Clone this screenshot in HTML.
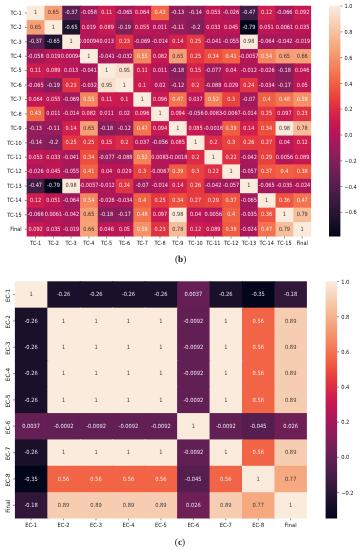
<!DOCTYPE html>
<html><head><meta charset="utf-8"><title>Correlation heatmaps</title>
<style>
html,body{margin:0;padding:0;background:#fff}
body{width:361px;height:550px;overflow:hidden}
svg{display:block}
svg text{font-family:"DejaVu Sans","Liberation Sans",sans-serif}
svg text.cap{font-family:"Liberation Serif","DejaVu Serif",serif;font-size:9.3px;fill:#222}
</style></head><body>
<svg width="361" height="550" viewBox="0 0 361 550" text-rendering="geometricPrecision">
<rect width="361" height="550" fill="#fff"/>
<g id="hm1">
<g>
<rect x="26.70" y="5.75" width="18.78" height="15.42" fill="#faebdd"/>
<rect x="44.48" y="5.75" width="18.78" height="15.42" fill="#f69e75"/>
<rect x="62.25" y="5.75" width="18.78" height="15.42" fill="#5b1e51"/>
<rect x="80.03" y="5.75" width="18.78" height="15.42" fill="#a4195b"/>
<rect x="97.80" y="5.75" width="18.78" height="15.42" fill="#cb1b4f"/>
<rect x="115.58" y="5.75" width="18.78" height="15.42" fill="#a3195b"/>
<rect x="133.35" y="5.75" width="18.78" height="15.42" fill="#c21753"/>
<rect x="151.12" y="5.75" width="18.78" height="15.42" fill="#f26747"/>
<rect x="168.90" y="5.75" width="18.78" height="15.42" fill="#931c5b"/>
<rect x="186.68" y="5.75" width="18.78" height="15.42" fill="#901d5b"/>
<rect x="204.45" y="5.75" width="18.78" height="15.42" fill="#bf1654"/>
<rect x="222.23" y="5.75" width="18.78" height="15.42" fill="#ad1759"/>
<rect x="240.00" y="5.75" width="18.78" height="15.42" fill="#431c46"/>
<rect x="257.78" y="5.75" width="18.78" height="15.42" fill="#ce1d4e"/>
<rect x="275.55" y="5.75" width="18.78" height="15.42" fill="#a3195b"/>
<rect x="293.33" y="5.75" width="17.78" height="15.42" fill="#c81951"/>
<rect x="26.70" y="20.17" width="18.78" height="15.42" fill="#f69e75"/>
<rect x="44.48" y="20.17" width="18.78" height="15.42" fill="#faebdd"/>
<rect x="62.25" y="20.17" width="18.78" height="15.42" fill="#1e122d"/>
<rect x="80.03" y="20.17" width="18.78" height="15.42" fill="#b71657"/>
<rect x="97.80" y="20.17" width="18.78" height="15.42" fill="#c71951"/>
<rect x="115.58" y="20.17" width="18.78" height="15.42" fill="#841e5a"/>
<rect x="133.35" y="20.17" width="18.78" height="15.42" fill="#bf1654"/>
<rect x="151.12" y="20.17" width="18.78" height="15.42" fill="#b51657"/>
<rect x="168.90" y="20.17" width="18.78" height="15.42" fill="#981b5b"/>
<rect x="186.68" y="20.17" width="18.78" height="15.42" fill="#821e5a"/>
<rect x="204.45" y="20.17" width="18.78" height="15.42" fill="#ba1656"/>
<rect x="222.23" y="20.17" width="18.78" height="15.42" fill="#bd1655"/>
<rect x="240.00" y="20.17" width="18.78" height="15.42" fill="#03051a"/>
<rect x="257.78" y="20.17" width="18.78" height="15.42" fill="#bf1654"/>
<rect x="275.55" y="20.17" width="18.78" height="15.42" fill="#b41658"/>
<rect x="293.33" y="20.17" width="17.78" height="15.42" fill="#ba1656"/>
<rect x="26.70" y="34.59" width="18.78" height="15.42" fill="#5b1e51"/>
<rect x="44.48" y="34.59" width="18.78" height="15.42" fill="#1e122d"/>
<rect x="62.25" y="34.59" width="18.78" height="15.42" fill="#faebdd"/>
<rect x="80.03" y="34.59" width="18.78" height="15.42" fill="#b41658"/>
<rect x="97.80" y="34.59" width="18.78" height="15.42" fill="#b51657"/>
<rect x="115.58" y="34.59" width="18.78" height="15.42" fill="#e03143"/>
<rect x="133.35" y="34.59" width="18.78" height="15.42" fill="#a3195b"/>
<rect x="151.12" y="34.59" width="18.78" height="15.42" fill="#af1759"/>
<rect x="168.90" y="34.59" width="18.78" height="15.42" fill="#d2204c"/>
<rect x="186.68" y="34.59" width="18.78" height="15.42" fill="#e33641"/>
<rect x="204.45" y="34.59" width="18.78" height="15.42" fill="#aa185a"/>
<rect x="222.23" y="34.59" width="18.78" height="15.42" fill="#a6195a"/>
<rect x="240.00" y="34.59" width="18.78" height="15.42" fill="#fae8d8"/>
<rect x="257.78" y="34.59" width="18.78" height="15.42" fill="#a3195b"/>
<rect x="275.55" y="34.59" width="18.78" height="15.42" fill="#a8185a"/>
<rect x="293.33" y="34.59" width="17.78" height="15.42" fill="#af1759"/>
<rect x="26.70" y="49.02" width="18.78" height="15.42" fill="#a4195b"/>
<rect x="44.48" y="49.02" width="18.78" height="15.42" fill="#b71657"/>
<rect x="62.25" y="49.02" width="18.78" height="15.42" fill="#b41658"/>
<rect x="80.03" y="49.02" width="18.78" height="15.42" fill="#faebdd"/>
<rect x="97.80" y="49.02" width="18.78" height="15.42" fill="#aa185a"/>
<rect x="115.58" y="49.02" width="18.78" height="15.42" fill="#ab185a"/>
<rect x="133.35" y="49.02" width="18.78" height="15.42" fill="#f4865e"/>
<rect x="151.12" y="49.02" width="18.78" height="15.42" fill="#c51852"/>
<rect x="168.90" y="49.02" width="18.78" height="15.42" fill="#f69e75"/>
<rect x="186.68" y="49.02" width="18.78" height="15.42" fill="#e33641"/>
<rect x="204.45" y="49.02" width="18.78" height="15.42" fill="#ed4e3e"/>
<rect x="222.23" y="49.02" width="18.78" height="15.42" fill="#f16244"/>
<rect x="240.00" y="49.02" width="18.78" height="15.42" fill="#b21758"/>
<rect x="257.78" y="49.02" width="18.78" height="15.42" fill="#f4845d"/>
<rect x="275.55" y="49.02" width="18.78" height="15.42" fill="#f69e75"/>
<rect x="293.33" y="49.02" width="17.78" height="15.42" fill="#f6a178"/>
<rect x="26.70" y="63.44" width="18.78" height="15.42" fill="#cb1b4f"/>
<rect x="44.48" y="63.44" width="18.78" height="15.42" fill="#c71951"/>
<rect x="62.25" y="63.44" width="18.78" height="15.42" fill="#b51657"/>
<rect x="80.03" y="63.44" width="18.78" height="15.42" fill="#aa185a"/>
<rect x="97.80" y="63.44" width="18.78" height="15.42" fill="#faebdd"/>
<rect x="115.58" y="63.44" width="18.78" height="15.42" fill="#f9e0cd"/>
<rect x="133.35" y="63.44" width="18.78" height="15.42" fill="#cb1b4f"/>
<rect x="151.12" y="63.44" width="18.78" height="15.42" fill="#b51657"/>
<rect x="168.90" y="63.44" width="18.78" height="15.42" fill="#871e5b"/>
<rect x="186.68" y="63.44" width="18.78" height="15.42" fill="#d3214b"/>
<rect x="204.45" y="63.44" width="18.78" height="15.42" fill="#9f1a5b"/>
<rect x="222.23" y="63.44" width="18.78" height="15.42" fill="#bc1656"/>
<rect x="240.00" y="63.44" width="18.78" height="15.42" fill="#b01759"/>
<rect x="257.78" y="63.44" width="18.78" height="15.42" fill="#ad1759"/>
<rect x="275.55" y="63.44" width="18.78" height="15.42" fill="#871e5b"/>
<rect x="293.33" y="63.44" width="17.78" height="15.42" fill="#bd1655"/>
<rect x="26.70" y="77.86" width="18.78" height="15.42" fill="#a3195b"/>
<rect x="44.48" y="77.86" width="18.78" height="15.42" fill="#841e5a"/>
<rect x="62.25" y="77.86" width="18.78" height="15.42" fill="#e03143"/>
<rect x="80.03" y="77.86" width="18.78" height="15.42" fill="#ab185a"/>
<rect x="97.80" y="77.86" width="18.78" height="15.42" fill="#f9e0cd"/>
<rect x="115.58" y="77.86" width="18.78" height="15.42" fill="#faebdd"/>
<rect x="133.35" y="77.86" width="18.78" height="15.42" fill="#ca1a50"/>
<rect x="151.12" y="77.86" width="18.78" height="15.42" fill="#b71657"/>
<rect x="168.90" y="77.86" width="18.78" height="15.42" fill="#951c5b"/>
<rect x="186.68" y="77.86" width="18.78" height="15.42" fill="#dc2b46"/>
<rect x="204.45" y="77.86" width="18.78" height="15.42" fill="#9e1a5b"/>
<rect x="222.23" y="77.86" width="18.78" height="15.42" fill="#ba1656"/>
<rect x="240.00" y="77.86" width="18.78" height="15.42" fill="#e23442"/>
<rect x="257.78" y="77.86" width="18.78" height="15.42" fill="#ab185a"/>
<rect x="275.55" y="77.86" width="18.78" height="15.42" fill="#891e5b"/>
<rect x="293.33" y="77.86" width="17.78" height="15.42" fill="#bf1654"/>
<rect x="26.70" y="92.28" width="18.78" height="15.42" fill="#c21753"/>
<rect x="44.48" y="92.28" width="18.78" height="15.42" fill="#bf1654"/>
<rect x="62.25" y="92.28" width="18.78" height="15.42" fill="#a3195b"/>
<rect x="80.03" y="92.28" width="18.78" height="15.42" fill="#f4865e"/>
<rect x="97.80" y="92.28" width="18.78" height="15.42" fill="#cb1b4f"/>
<rect x="115.58" y="92.28" width="18.78" height="15.42" fill="#ca1a50"/>
<rect x="133.35" y="92.28" width="18.78" height="15.42" fill="#faebdd"/>
<rect x="151.12" y="92.28" width="18.78" height="15.42" fill="#c81951"/>
<rect x="168.90" y="92.28" width="18.78" height="15.42" fill="#f3734e"/>
<rect x="186.68" y="92.28" width="18.78" height="15.42" fill="#bc1656"/>
<rect x="204.45" y="92.28" width="18.78" height="15.42" fill="#f47f58"/>
<rect x="222.23" y="92.28" width="18.78" height="15.42" fill="#e9423e"/>
<rect x="240.00" y="92.28" width="18.78" height="15.42" fill="#a11a5b"/>
<rect x="257.78" y="92.28" width="18.78" height="15.42" fill="#f06043"/>
<rect x="275.55" y="92.28" width="18.78" height="15.42" fill="#f37450"/>
<rect x="293.33" y="92.28" width="17.78" height="15.42" fill="#f59067"/>
<rect x="26.70" y="106.70" width="18.78" height="15.42" fill="#f26747"/>
<rect x="44.48" y="106.70" width="18.78" height="15.42" fill="#b51657"/>
<rect x="62.25" y="106.70" width="18.78" height="15.42" fill="#af1759"/>
<rect x="80.03" y="106.70" width="18.78" height="15.42" fill="#c51852"/>
<rect x="97.80" y="106.70" width="18.78" height="15.42" fill="#b51657"/>
<rect x="115.58" y="106.70" width="18.78" height="15.42" fill="#b71657"/>
<rect x="133.35" y="106.70" width="18.78" height="15.42" fill="#c81951"/>
<rect x="151.12" y="106.70" width="18.78" height="15.42" fill="#faebdd"/>
<rect x="168.90" y="106.70" width="18.78" height="15.42" fill="#c81951"/>
<rect x="186.68" y="106.70" width="18.78" height="15.42" fill="#a4195b"/>
<rect x="204.45" y="106.70" width="18.78" height="15.42" fill="#b51657"/>
<rect x="222.23" y="106.70" width="18.78" height="15.42" fill="#b21758"/>
<rect x="240.00" y="106.70" width="18.78" height="15.42" fill="#af1759"/>
<rect x="257.78" y="106.70" width="18.78" height="15.42" fill="#e33641"/>
<rect x="275.55" y="106.70" width="18.78" height="15.42" fill="#c81951"/>
<rect x="293.33" y="106.70" width="17.78" height="15.42" fill="#e03143"/>
<rect x="26.70" y="121.12" width="18.78" height="15.42" fill="#931c5b"/>
<rect x="44.48" y="121.12" width="18.78" height="15.42" fill="#981b5b"/>
<rect x="62.25" y="121.12" width="18.78" height="15.42" fill="#d2204c"/>
<rect x="80.03" y="121.12" width="18.78" height="15.42" fill="#f69e75"/>
<rect x="97.80" y="121.12" width="18.78" height="15.42" fill="#871e5b"/>
<rect x="115.58" y="121.12" width="18.78" height="15.42" fill="#951c5b"/>
<rect x="133.35" y="121.12" width="18.78" height="15.42" fill="#f3734e"/>
<rect x="151.12" y="121.12" width="18.78" height="15.42" fill="#c81951"/>
<rect x="168.90" y="121.12" width="18.78" height="15.42" fill="#faebdd"/>
<rect x="186.68" y="121.12" width="18.78" height="15.42" fill="#c71951"/>
<rect x="204.45" y="121.12" width="18.78" height="15.42" fill="#b21758"/>
<rect x="222.23" y="121.12" width="18.78" height="15.42" fill="#f05c42"/>
<rect x="240.00" y="121.12" width="18.78" height="15.42" fill="#d2204c"/>
<rect x="257.78" y="121.12" width="18.78" height="15.42" fill="#ed4e3e"/>
<rect x="275.55" y="121.12" width="18.78" height="15.42" fill="#fae8d8"/>
<rect x="293.33" y="121.12" width="17.78" height="15.42" fill="#f6bc99"/>
<rect x="26.70" y="135.55" width="18.78" height="15.42" fill="#901d5b"/>
<rect x="44.48" y="135.55" width="18.78" height="15.42" fill="#821e5a"/>
<rect x="62.25" y="135.55" width="18.78" height="15.42" fill="#e33641"/>
<rect x="80.03" y="135.55" width="18.78" height="15.42" fill="#e33641"/>
<rect x="97.80" y="135.55" width="18.78" height="15.42" fill="#d3214b"/>
<rect x="115.58" y="135.55" width="18.78" height="15.42" fill="#dc2b46"/>
<rect x="133.35" y="135.55" width="18.78" height="15.42" fill="#bc1656"/>
<rect x="151.12" y="135.55" width="18.78" height="15.42" fill="#a4195b"/>
<rect x="168.90" y="135.55" width="18.78" height="15.42" fill="#c71951"/>
<rect x="186.68" y="135.55" width="18.78" height="15.42" fill="#faebdd"/>
<rect x="204.45" y="135.55" width="18.78" height="15.42" fill="#dc2b46"/>
<rect x="222.23" y="135.55" width="18.78" height="15.42" fill="#e9423e"/>
<rect x="240.00" y="135.55" width="18.78" height="15.42" fill="#e53940"/>
<rect x="257.78" y="135.55" width="18.78" height="15.42" fill="#e63b40"/>
<rect x="275.55" y="135.55" width="18.78" height="15.42" fill="#bc1656"/>
<rect x="293.33" y="135.55" width="17.78" height="15.42" fill="#ce1d4e"/>
<rect x="26.70" y="149.97" width="18.78" height="15.42" fill="#bf1654"/>
<rect x="44.48" y="149.97" width="18.78" height="15.42" fill="#ba1656"/>
<rect x="62.25" y="149.97" width="18.78" height="15.42" fill="#aa185a"/>
<rect x="80.03" y="149.97" width="18.78" height="15.42" fill="#ed4e3e"/>
<rect x="97.80" y="149.97" width="18.78" height="15.42" fill="#9f1a5b"/>
<rect x="115.58" y="149.97" width="18.78" height="15.42" fill="#9e1a5b"/>
<rect x="133.35" y="149.97" width="18.78" height="15.42" fill="#f47f58"/>
<rect x="151.12" y="149.97" width="18.78" height="15.42" fill="#b51657"/>
<rect x="168.90" y="149.97" width="18.78" height="15.42" fill="#b21758"/>
<rect x="186.68" y="149.97" width="18.78" height="15.42" fill="#dc2b46"/>
<rect x="204.45" y="149.97" width="18.78" height="15.42" fill="#faebdd"/>
<rect x="222.23" y="149.97" width="18.78" height="15.42" fill="#df2f44"/>
<rect x="240.00" y="149.97" width="18.78" height="15.42" fill="#a8185a"/>
<rect x="257.78" y="149.97" width="18.78" height="15.42" fill="#e8403e"/>
<rect x="275.55" y="149.97" width="18.78" height="15.42" fill="#b41658"/>
<rect x="293.33" y="149.97" width="17.78" height="15.42" fill="#c71951"/>
<rect x="26.70" y="164.39" width="18.78" height="15.42" fill="#ad1759"/>
<rect x="44.48" y="164.39" width="18.78" height="15.42" fill="#bd1655"/>
<rect x="62.25" y="164.39" width="18.78" height="15.42" fill="#a6195a"/>
<rect x="80.03" y="164.39" width="18.78" height="15.42" fill="#f16244"/>
<rect x="97.80" y="164.39" width="18.78" height="15.42" fill="#bc1656"/>
<rect x="115.58" y="164.39" width="18.78" height="15.42" fill="#ba1656"/>
<rect x="133.35" y="164.39" width="18.78" height="15.42" fill="#e9423e"/>
<rect x="151.12" y="164.39" width="18.78" height="15.42" fill="#b21758"/>
<rect x="168.90" y="164.39" width="18.78" height="15.42" fill="#f05c42"/>
<rect x="186.68" y="164.39" width="18.78" height="15.42" fill="#e9423e"/>
<rect x="204.45" y="164.39" width="18.78" height="15.42" fill="#df2f44"/>
<rect x="222.23" y="164.39" width="18.78" height="15.42" fill="#faebdd"/>
<rect x="240.00" y="164.39" width="18.78" height="15.42" fill="#a4195b"/>
<rect x="257.78" y="164.39" width="18.78" height="15.42" fill="#ef5640"/>
<rect x="275.55" y="164.39" width="18.78" height="15.42" fill="#f06043"/>
<rect x="293.33" y="164.39" width="17.78" height="15.42" fill="#ef5a41"/>
<rect x="26.70" y="178.81" width="18.78" height="15.42" fill="#431c46"/>
<rect x="44.48" y="178.81" width="18.78" height="15.42" fill="#03051a"/>
<rect x="62.25" y="178.81" width="18.78" height="15.42" fill="#fae8d8"/>
<rect x="80.03" y="178.81" width="18.78" height="15.42" fill="#b21758"/>
<rect x="97.80" y="178.81" width="18.78" height="15.42" fill="#b01759"/>
<rect x="115.58" y="178.81" width="18.78" height="15.42" fill="#e23442"/>
<rect x="133.35" y="178.81" width="18.78" height="15.42" fill="#a11a5b"/>
<rect x="151.12" y="178.81" width="18.78" height="15.42" fill="#af1759"/>
<rect x="168.90" y="178.81" width="18.78" height="15.42" fill="#d2204c"/>
<rect x="186.68" y="178.81" width="18.78" height="15.42" fill="#e53940"/>
<rect x="204.45" y="178.81" width="18.78" height="15.42" fill="#a8185a"/>
<rect x="222.23" y="178.81" width="18.78" height="15.42" fill="#a4195b"/>
<rect x="240.00" y="178.81" width="18.78" height="15.42" fill="#faebdd"/>
<rect x="257.78" y="178.81" width="18.78" height="15.42" fill="#a3195b"/>
<rect x="275.55" y="178.81" width="18.78" height="15.42" fill="#aa185a"/>
<rect x="293.33" y="178.81" width="17.78" height="15.42" fill="#ad1759"/>
<rect x="26.70" y="193.23" width="18.78" height="15.42" fill="#ce1d4e"/>
<rect x="44.48" y="193.23" width="18.78" height="15.42" fill="#bf1654"/>
<rect x="62.25" y="193.23" width="18.78" height="15.42" fill="#a3195b"/>
<rect x="80.03" y="193.23" width="18.78" height="15.42" fill="#f4845d"/>
<rect x="97.80" y="193.23" width="18.78" height="15.42" fill="#ad1759"/>
<rect x="115.58" y="193.23" width="18.78" height="15.42" fill="#ab185a"/>
<rect x="133.35" y="193.23" width="18.78" height="15.42" fill="#f06043"/>
<rect x="151.12" y="193.23" width="18.78" height="15.42" fill="#e33641"/>
<rect x="168.90" y="193.23" width="18.78" height="15.42" fill="#ed4e3e"/>
<rect x="186.68" y="193.23" width="18.78" height="15.42" fill="#e63b40"/>
<rect x="204.45" y="193.23" width="18.78" height="15.42" fill="#e8403e"/>
<rect x="222.23" y="193.23" width="18.78" height="15.42" fill="#ef5640"/>
<rect x="240.00" y="193.23" width="18.78" height="15.42" fill="#a3195b"/>
<rect x="257.78" y="193.23" width="18.78" height="15.42" fill="#faebdd"/>
<rect x="275.55" y="193.23" width="18.78" height="15.42" fill="#ee543f"/>
<rect x="293.33" y="193.23" width="17.78" height="15.42" fill="#f3734e"/>
<rect x="26.70" y="207.66" width="18.78" height="15.42" fill="#a3195b"/>
<rect x="44.48" y="207.66" width="18.78" height="15.42" fill="#b41658"/>
<rect x="62.25" y="207.66" width="18.78" height="15.42" fill="#a8185a"/>
<rect x="80.03" y="207.66" width="18.78" height="15.42" fill="#f69e75"/>
<rect x="97.80" y="207.66" width="18.78" height="15.42" fill="#871e5b"/>
<rect x="115.58" y="207.66" width="18.78" height="15.42" fill="#891e5b"/>
<rect x="133.35" y="207.66" width="18.78" height="15.42" fill="#f37450"/>
<rect x="151.12" y="207.66" width="18.78" height="15.42" fill="#c81951"/>
<rect x="168.90" y="207.66" width="18.78" height="15.42" fill="#fae8d8"/>
<rect x="186.68" y="207.66" width="18.78" height="15.42" fill="#bc1656"/>
<rect x="204.45" y="207.66" width="18.78" height="15.42" fill="#b41658"/>
<rect x="222.23" y="207.66" width="18.78" height="15.42" fill="#f06043"/>
<rect x="240.00" y="207.66" width="18.78" height="15.42" fill="#aa185a"/>
<rect x="257.78" y="207.66" width="18.78" height="15.42" fill="#ee543f"/>
<rect x="275.55" y="207.66" width="18.78" height="15.42" fill="#faebdd"/>
<rect x="293.33" y="207.66" width="17.78" height="15.42" fill="#f6be9b"/>
<rect x="26.70" y="222.08" width="18.78" height="14.42" fill="#c81951"/>
<rect x="44.48" y="222.08" width="18.78" height="14.42" fill="#ba1656"/>
<rect x="62.25" y="222.08" width="18.78" height="14.42" fill="#af1759"/>
<rect x="80.03" y="222.08" width="18.78" height="14.42" fill="#f6a178"/>
<rect x="97.80" y="222.08" width="18.78" height="14.42" fill="#bd1655"/>
<rect x="115.58" y="222.08" width="18.78" height="14.42" fill="#bf1654"/>
<rect x="133.35" y="222.08" width="18.78" height="14.42" fill="#f59067"/>
<rect x="151.12" y="222.08" width="18.78" height="14.42" fill="#e03143"/>
<rect x="168.90" y="222.08" width="18.78" height="14.42" fill="#f6bc99"/>
<rect x="186.68" y="222.08" width="18.78" height="14.42" fill="#ce1d4e"/>
<rect x="204.45" y="222.08" width="18.78" height="14.42" fill="#c71951"/>
<rect x="222.23" y="222.08" width="18.78" height="14.42" fill="#ef5a41"/>
<rect x="240.00" y="222.08" width="18.78" height="14.42" fill="#ad1759"/>
<rect x="257.78" y="222.08" width="18.78" height="14.42" fill="#f3734e"/>
<rect x="275.55" y="222.08" width="18.78" height="14.42" fill="#f6be9b"/>
<rect x="293.33" y="222.08" width="17.78" height="14.42" fill="#faebdd"/>
</g>
<g font-size="5.8" text-anchor="middle" stroke-width="0" opacity="0.88">
<text transform="translate(35.59 14.41) scale(0.86 1)" fill="#262626" stroke="#262626">1</text>
<text transform="translate(53.36 14.41) scale(0.86 1)" fill="#262626" stroke="#262626">0.65</text>
<text transform="translate(71.14 14.41) scale(0.86 1)" fill="#ffffff" stroke="#ffffff">-0.37</text>
<text transform="translate(88.91 14.41) scale(0.86 1)" fill="#ffffff" stroke="#ffffff">-0.058</text>
<text transform="translate(106.69 14.41) scale(0.86 1)" fill="#ffffff" stroke="#ffffff">0.11</text>
<text transform="translate(124.46 14.41) scale(0.86 1)" fill="#ffffff" stroke="#ffffff">-0.065</text>
<text transform="translate(142.24 14.41) scale(0.86 1)" fill="#ffffff" stroke="#ffffff">0.064</text>
<text transform="translate(160.01 14.41) scale(0.86 1)" fill="#ffffff" stroke="#ffffff">0.43</text>
<text transform="translate(177.79 14.41) scale(0.86 1)" fill="#ffffff" stroke="#ffffff">-0.13</text>
<text transform="translate(195.56 14.41) scale(0.86 1)" fill="#ffffff" stroke="#ffffff">-0.14</text>
<text transform="translate(213.34 14.41) scale(0.86 1)" fill="#ffffff" stroke="#ffffff">0.053</text>
<text transform="translate(231.11 14.41) scale(0.86 1)" fill="#ffffff" stroke="#ffffff">-0.026</text>
<text transform="translate(248.89 14.41) scale(0.86 1)" fill="#ffffff" stroke="#ffffff">-0.47</text>
<text transform="translate(266.66 14.41) scale(0.86 1)" fill="#ffffff" stroke="#ffffff">0.12</text>
<text transform="translate(284.44 14.41) scale(0.86 1)" fill="#ffffff" stroke="#ffffff">-0.066</text>
<text transform="translate(302.21 14.41) scale(0.86 1)" fill="#ffffff" stroke="#ffffff">0.092</text>
<text transform="translate(35.59 28.83) scale(0.86 1)" fill="#262626" stroke="#262626">0.65</text>
<text transform="translate(53.36 28.83) scale(0.86 1)" fill="#262626" stroke="#262626">1</text>
<text transform="translate(71.14 28.83) scale(0.86 1)" fill="#ffffff" stroke="#ffffff">-0.65</text>
<text transform="translate(88.91 28.83) scale(0.86 1)" fill="#ffffff" stroke="#ffffff">0.019</text>
<text transform="translate(106.69 28.83) scale(0.86 1)" fill="#ffffff" stroke="#ffffff">0.089</text>
<text transform="translate(124.46 28.83) scale(0.86 1)" fill="#ffffff" stroke="#ffffff">-0.19</text>
<text transform="translate(142.24 28.83) scale(0.86 1)" fill="#ffffff" stroke="#ffffff">0.055</text>
<text transform="translate(160.01 28.83) scale(0.86 1)" fill="#ffffff" stroke="#ffffff">0.011</text>
<text transform="translate(177.79 28.83) scale(0.86 1)" fill="#ffffff" stroke="#ffffff">-0.11</text>
<text transform="translate(195.56 28.83) scale(0.86 1)" fill="#ffffff" stroke="#ffffff">-0.2</text>
<text transform="translate(213.34 28.83) scale(0.86 1)" fill="#ffffff" stroke="#ffffff">0.033</text>
<text transform="translate(231.11 28.83) scale(0.86 1)" fill="#ffffff" stroke="#ffffff">0.045</text>
<text transform="translate(248.89 28.83) scale(0.86 1)" fill="#ffffff" stroke="#ffffff">-0.79</text>
<text transform="translate(266.66 28.83) scale(0.86 1)" fill="#ffffff" stroke="#ffffff">0.051</text>
<text transform="translate(284.44 28.83) scale(0.86 1)" fill="#ffffff" stroke="#ffffff">0.0061</text>
<text transform="translate(302.21 28.83) scale(0.86 1)" fill="#ffffff" stroke="#ffffff">0.035</text>
<text transform="translate(35.59 43.25) scale(0.86 1)" fill="#ffffff" stroke="#ffffff">-0.37</text>
<text transform="translate(53.36 43.25) scale(0.86 1)" fill="#ffffff" stroke="#ffffff">-0.65</text>
<text transform="translate(71.14 43.25) scale(0.86 1)" fill="#262626" stroke="#262626">1</text>
<text transform="translate(88.91 43.25) scale(0.86 1)" fill="#ffffff" stroke="#ffffff">0.00094</text>
<text transform="translate(106.69 43.25) scale(0.86 1)" fill="#ffffff" stroke="#ffffff">0.013</text>
<text transform="translate(124.46 43.25) scale(0.86 1)" fill="#ffffff" stroke="#ffffff">0.23</text>
<text transform="translate(142.24 43.25) scale(0.86 1)" fill="#ffffff" stroke="#ffffff">-0.069</text>
<text transform="translate(160.01 43.25) scale(0.86 1)" fill="#ffffff" stroke="#ffffff">-0.014</text>
<text transform="translate(177.79 43.25) scale(0.86 1)" fill="#ffffff" stroke="#ffffff">0.14</text>
<text transform="translate(195.56 43.25) scale(0.86 1)" fill="#ffffff" stroke="#ffffff">0.25</text>
<text transform="translate(213.34 43.25) scale(0.86 1)" fill="#ffffff" stroke="#ffffff">-0.041</text>
<text transform="translate(231.11 43.25) scale(0.86 1)" fill="#ffffff" stroke="#ffffff">-0.055</text>
<text transform="translate(248.89 43.25) scale(0.86 1)" fill="#262626" stroke="#262626">0.98</text>
<text transform="translate(266.66 43.25) scale(0.86 1)" fill="#ffffff" stroke="#ffffff">-0.064</text>
<text transform="translate(284.44 43.25) scale(0.86 1)" fill="#ffffff" stroke="#ffffff">-0.042</text>
<text transform="translate(302.21 43.25) scale(0.86 1)" fill="#ffffff" stroke="#ffffff">-0.019</text>
<text transform="translate(35.59 57.68) scale(0.86 1)" fill="#ffffff" stroke="#ffffff">-0.058</text>
<text transform="translate(53.36 57.68) scale(0.86 1)" fill="#ffffff" stroke="#ffffff">0.019</text>
<text transform="translate(71.14 57.68) scale(0.86 1)" fill="#ffffff" stroke="#ffffff">0.00094</text>
<text transform="translate(88.91 57.68) scale(0.86 1)" fill="#262626" stroke="#262626">1</text>
<text transform="translate(106.69 57.68) scale(0.86 1)" fill="#ffffff" stroke="#ffffff">-0.041</text>
<text transform="translate(124.46 57.68) scale(0.86 1)" fill="#ffffff" stroke="#ffffff">-0.032</text>
<text transform="translate(142.24 57.68) scale(0.86 1)" fill="#ffffff" stroke="#ffffff">0.55</text>
<text transform="translate(160.01 57.68) scale(0.86 1)" fill="#ffffff" stroke="#ffffff">0.082</text>
<text transform="translate(177.79 57.68) scale(0.86 1)" fill="#262626" stroke="#262626">0.65</text>
<text transform="translate(195.56 57.68) scale(0.86 1)" fill="#ffffff" stroke="#ffffff">0.25</text>
<text transform="translate(213.34 57.68) scale(0.86 1)" fill="#ffffff" stroke="#ffffff">0.34</text>
<text transform="translate(231.11 57.68) scale(0.86 1)" fill="#ffffff" stroke="#ffffff">0.41</text>
<text transform="translate(248.89 57.68) scale(0.86 1)" fill="#ffffff" stroke="#ffffff">-0.0057</text>
<text transform="translate(266.66 57.68) scale(0.86 1)" fill="#ffffff" stroke="#ffffff">0.54</text>
<text transform="translate(284.44 57.68) scale(0.86 1)" fill="#262626" stroke="#262626">0.65</text>
<text transform="translate(302.21 57.68) scale(0.86 1)" fill="#262626" stroke="#262626">0.66</text>
<text transform="translate(35.59 72.10) scale(0.86 1)" fill="#ffffff" stroke="#ffffff">0.11</text>
<text transform="translate(53.36 72.10) scale(0.86 1)" fill="#ffffff" stroke="#ffffff">0.089</text>
<text transform="translate(71.14 72.10) scale(0.86 1)" fill="#ffffff" stroke="#ffffff">0.013</text>
<text transform="translate(88.91 72.10) scale(0.86 1)" fill="#ffffff" stroke="#ffffff">-0.041</text>
<text transform="translate(106.69 72.10) scale(0.86 1)" fill="#262626" stroke="#262626">1</text>
<text transform="translate(124.46 72.10) scale(0.86 1)" fill="#262626" stroke="#262626">0.95</text>
<text transform="translate(142.24 72.10) scale(0.86 1)" fill="#ffffff" stroke="#ffffff">0.11</text>
<text transform="translate(160.01 72.10) scale(0.86 1)" fill="#ffffff" stroke="#ffffff">0.011</text>
<text transform="translate(177.79 72.10) scale(0.86 1)" fill="#ffffff" stroke="#ffffff">-0.18</text>
<text transform="translate(195.56 72.10) scale(0.86 1)" fill="#ffffff" stroke="#ffffff">0.15</text>
<text transform="translate(213.34 72.10) scale(0.86 1)" fill="#ffffff" stroke="#ffffff">-0.077</text>
<text transform="translate(231.11 72.10) scale(0.86 1)" fill="#ffffff" stroke="#ffffff">0.04</text>
<text transform="translate(248.89 72.10) scale(0.86 1)" fill="#ffffff" stroke="#ffffff">-0.012</text>
<text transform="translate(266.66 72.10) scale(0.86 1)" fill="#ffffff" stroke="#ffffff">-0.026</text>
<text transform="translate(284.44 72.10) scale(0.86 1)" fill="#ffffff" stroke="#ffffff">-0.18</text>
<text transform="translate(302.21 72.10) scale(0.86 1)" fill="#ffffff" stroke="#ffffff">0.046</text>
<text transform="translate(35.59 86.52) scale(0.86 1)" fill="#ffffff" stroke="#ffffff">-0.065</text>
<text transform="translate(53.36 86.52) scale(0.86 1)" fill="#ffffff" stroke="#ffffff">-0.19</text>
<text transform="translate(71.14 86.52) scale(0.86 1)" fill="#ffffff" stroke="#ffffff">0.23</text>
<text transform="translate(88.91 86.52) scale(0.86 1)" fill="#ffffff" stroke="#ffffff">-0.032</text>
<text transform="translate(106.69 86.52) scale(0.86 1)" fill="#262626" stroke="#262626">0.95</text>
<text transform="translate(124.46 86.52) scale(0.86 1)" fill="#262626" stroke="#262626">1</text>
<text transform="translate(142.24 86.52) scale(0.86 1)" fill="#ffffff" stroke="#ffffff">0.1</text>
<text transform="translate(160.01 86.52) scale(0.86 1)" fill="#ffffff" stroke="#ffffff">0.02</text>
<text transform="translate(177.79 86.52) scale(0.86 1)" fill="#ffffff" stroke="#ffffff">-0.12</text>
<text transform="translate(195.56 86.52) scale(0.86 1)" fill="#ffffff" stroke="#ffffff">0.2</text>
<text transform="translate(213.34 86.52) scale(0.86 1)" fill="#ffffff" stroke="#ffffff">-0.088</text>
<text transform="translate(231.11 86.52) scale(0.86 1)" fill="#ffffff" stroke="#ffffff">0.029</text>
<text transform="translate(248.89 86.52) scale(0.86 1)" fill="#ffffff" stroke="#ffffff">0.24</text>
<text transform="translate(266.66 86.52) scale(0.86 1)" fill="#ffffff" stroke="#ffffff">-0.034</text>
<text transform="translate(284.44 86.52) scale(0.86 1)" fill="#ffffff" stroke="#ffffff">-0.17</text>
<text transform="translate(302.21 86.52) scale(0.86 1)" fill="#ffffff" stroke="#ffffff">0.05</text>
<text transform="translate(35.59 100.94) scale(0.86 1)" fill="#ffffff" stroke="#ffffff">0.064</text>
<text transform="translate(53.36 100.94) scale(0.86 1)" fill="#ffffff" stroke="#ffffff">0.055</text>
<text transform="translate(71.14 100.94) scale(0.86 1)" fill="#ffffff" stroke="#ffffff">-0.069</text>
<text transform="translate(88.91 100.94) scale(0.86 1)" fill="#ffffff" stroke="#ffffff">0.55</text>
<text transform="translate(106.69 100.94) scale(0.86 1)" fill="#ffffff" stroke="#ffffff">0.11</text>
<text transform="translate(124.46 100.94) scale(0.86 1)" fill="#ffffff" stroke="#ffffff">0.1</text>
<text transform="translate(142.24 100.94) scale(0.86 1)" fill="#262626" stroke="#262626">1</text>
<text transform="translate(160.01 100.94) scale(0.86 1)" fill="#ffffff" stroke="#ffffff">0.096</text>
<text transform="translate(177.79 100.94) scale(0.86 1)" fill="#ffffff" stroke="#ffffff">0.47</text>
<text transform="translate(195.56 100.94) scale(0.86 1)" fill="#ffffff" stroke="#ffffff">0.037</text>
<text transform="translate(213.34 100.94) scale(0.86 1)" fill="#ffffff" stroke="#ffffff">0.52</text>
<text transform="translate(231.11 100.94) scale(0.86 1)" fill="#ffffff" stroke="#ffffff">0.3</text>
<text transform="translate(248.89 100.94) scale(0.86 1)" fill="#ffffff" stroke="#ffffff">-0.07</text>
<text transform="translate(266.66 100.94) scale(0.86 1)" fill="#ffffff" stroke="#ffffff">0.4</text>
<text transform="translate(284.44 100.94) scale(0.86 1)" fill="#ffffff" stroke="#ffffff">0.48</text>
<text transform="translate(302.21 100.94) scale(0.86 1)" fill="#ffffff" stroke="#ffffff">0.59</text>
<text transform="translate(35.59 115.36) scale(0.86 1)" fill="#ffffff" stroke="#ffffff">0.43</text>
<text transform="translate(53.36 115.36) scale(0.86 1)" fill="#ffffff" stroke="#ffffff">0.011</text>
<text transform="translate(71.14 115.36) scale(0.86 1)" fill="#ffffff" stroke="#ffffff">-0.014</text>
<text transform="translate(88.91 115.36) scale(0.86 1)" fill="#ffffff" stroke="#ffffff">0.082</text>
<text transform="translate(106.69 115.36) scale(0.86 1)" fill="#ffffff" stroke="#ffffff">0.011</text>
<text transform="translate(124.46 115.36) scale(0.86 1)" fill="#ffffff" stroke="#ffffff">0.02</text>
<text transform="translate(142.24 115.36) scale(0.86 1)" fill="#ffffff" stroke="#ffffff">0.096</text>
<text transform="translate(160.01 115.36) scale(0.86 1)" fill="#262626" stroke="#262626">1</text>
<text transform="translate(177.79 115.36) scale(0.86 1)" fill="#ffffff" stroke="#ffffff">0.094</text>
<text transform="translate(195.56 115.36) scale(0.86 1)" fill="#ffffff" stroke="#ffffff">-0.056</text>
<text transform="translate(213.34 115.36) scale(0.86 1)" fill="#ffffff" stroke="#ffffff">0.0083</text>
<text transform="translate(231.11 115.36) scale(0.86 1)" fill="#ffffff" stroke="#ffffff">-0.0067</text>
<text transform="translate(248.89 115.36) scale(0.86 1)" fill="#ffffff" stroke="#ffffff">-0.014</text>
<text transform="translate(266.66 115.36) scale(0.86 1)" fill="#ffffff" stroke="#ffffff">0.25</text>
<text transform="translate(284.44 115.36) scale(0.86 1)" fill="#ffffff" stroke="#ffffff">0.097</text>
<text transform="translate(302.21 115.36) scale(0.86 1)" fill="#ffffff" stroke="#ffffff">0.23</text>
<text transform="translate(35.59 129.79) scale(0.86 1)" fill="#ffffff" stroke="#ffffff">-0.13</text>
<text transform="translate(53.36 129.79) scale(0.86 1)" fill="#ffffff" stroke="#ffffff">-0.11</text>
<text transform="translate(71.14 129.79) scale(0.86 1)" fill="#ffffff" stroke="#ffffff">0.14</text>
<text transform="translate(88.91 129.79) scale(0.86 1)" fill="#262626" stroke="#262626">0.65</text>
<text transform="translate(106.69 129.79) scale(0.86 1)" fill="#ffffff" stroke="#ffffff">-0.18</text>
<text transform="translate(124.46 129.79) scale(0.86 1)" fill="#ffffff" stroke="#ffffff">-0.12</text>
<text transform="translate(142.24 129.79) scale(0.86 1)" fill="#ffffff" stroke="#ffffff">0.47</text>
<text transform="translate(160.01 129.79) scale(0.86 1)" fill="#ffffff" stroke="#ffffff">0.094</text>
<text transform="translate(177.79 129.79) scale(0.86 1)" fill="#262626" stroke="#262626">1</text>
<text transform="translate(195.56 129.79) scale(0.86 1)" fill="#ffffff" stroke="#ffffff">0.085</text>
<text transform="translate(213.34 129.79) scale(0.86 1)" fill="#ffffff" stroke="#ffffff">-0.0018</text>
<text transform="translate(231.11 129.79) scale(0.86 1)" fill="#ffffff" stroke="#ffffff">0.39</text>
<text transform="translate(248.89 129.79) scale(0.86 1)" fill="#ffffff" stroke="#ffffff">0.14</text>
<text transform="translate(266.66 129.79) scale(0.86 1)" fill="#ffffff" stroke="#ffffff">0.34</text>
<text transform="translate(284.44 129.79) scale(0.86 1)" fill="#262626" stroke="#262626">0.98</text>
<text transform="translate(302.21 129.79) scale(0.86 1)" fill="#262626" stroke="#262626">0.78</text>
<text transform="translate(35.59 144.21) scale(0.86 1)" fill="#ffffff" stroke="#ffffff">-0.14</text>
<text transform="translate(53.36 144.21) scale(0.86 1)" fill="#ffffff" stroke="#ffffff">-0.2</text>
<text transform="translate(71.14 144.21) scale(0.86 1)" fill="#ffffff" stroke="#ffffff">0.25</text>
<text transform="translate(88.91 144.21) scale(0.86 1)" fill="#ffffff" stroke="#ffffff">0.25</text>
<text transform="translate(106.69 144.21) scale(0.86 1)" fill="#ffffff" stroke="#ffffff">0.15</text>
<text transform="translate(124.46 144.21) scale(0.86 1)" fill="#ffffff" stroke="#ffffff">0.2</text>
<text transform="translate(142.24 144.21) scale(0.86 1)" fill="#ffffff" stroke="#ffffff">0.037</text>
<text transform="translate(160.01 144.21) scale(0.86 1)" fill="#ffffff" stroke="#ffffff">-0.056</text>
<text transform="translate(177.79 144.21) scale(0.86 1)" fill="#ffffff" stroke="#ffffff">0.085</text>
<text transform="translate(195.56 144.21) scale(0.86 1)" fill="#262626" stroke="#262626">1</text>
<text transform="translate(213.34 144.21) scale(0.86 1)" fill="#ffffff" stroke="#ffffff">0.2</text>
<text transform="translate(231.11 144.21) scale(0.86 1)" fill="#ffffff" stroke="#ffffff">0.3</text>
<text transform="translate(248.89 144.21) scale(0.86 1)" fill="#ffffff" stroke="#ffffff">0.26</text>
<text transform="translate(266.66 144.21) scale(0.86 1)" fill="#ffffff" stroke="#ffffff">0.27</text>
<text transform="translate(284.44 144.21) scale(0.86 1)" fill="#ffffff" stroke="#ffffff">0.04</text>
<text transform="translate(302.21 144.21) scale(0.86 1)" fill="#ffffff" stroke="#ffffff">0.12</text>
<text transform="translate(35.59 158.63) scale(0.86 1)" fill="#ffffff" stroke="#ffffff">0.053</text>
<text transform="translate(53.36 158.63) scale(0.86 1)" fill="#ffffff" stroke="#ffffff">0.033</text>
<text transform="translate(71.14 158.63) scale(0.86 1)" fill="#ffffff" stroke="#ffffff">-0.041</text>
<text transform="translate(88.91 158.63) scale(0.86 1)" fill="#ffffff" stroke="#ffffff">0.34</text>
<text transform="translate(106.69 158.63) scale(0.86 1)" fill="#ffffff" stroke="#ffffff">-0.077</text>
<text transform="translate(124.46 158.63) scale(0.86 1)" fill="#ffffff" stroke="#ffffff">-0.088</text>
<text transform="translate(142.24 158.63) scale(0.86 1)" fill="#ffffff" stroke="#ffffff">0.52</text>
<text transform="translate(160.01 158.63) scale(0.86 1)" fill="#ffffff" stroke="#ffffff">0.0083</text>
<text transform="translate(177.79 158.63) scale(0.86 1)" fill="#ffffff" stroke="#ffffff">-0.0018</text>
<text transform="translate(195.56 158.63) scale(0.86 1)" fill="#ffffff" stroke="#ffffff">0.2</text>
<text transform="translate(213.34 158.63) scale(0.86 1)" fill="#262626" stroke="#262626">1</text>
<text transform="translate(231.11 158.63) scale(0.86 1)" fill="#ffffff" stroke="#ffffff">0.22</text>
<text transform="translate(248.89 158.63) scale(0.86 1)" fill="#ffffff" stroke="#ffffff">-0.042</text>
<text transform="translate(266.66 158.63) scale(0.86 1)" fill="#ffffff" stroke="#ffffff">0.29</text>
<text transform="translate(284.44 158.63) scale(0.86 1)" fill="#ffffff" stroke="#ffffff">0.0056</text>
<text transform="translate(302.21 158.63) scale(0.86 1)" fill="#ffffff" stroke="#ffffff">0.089</text>
<text transform="translate(35.59 173.05) scale(0.86 1)" fill="#ffffff" stroke="#ffffff">-0.026</text>
<text transform="translate(53.36 173.05) scale(0.86 1)" fill="#ffffff" stroke="#ffffff">0.045</text>
<text transform="translate(71.14 173.05) scale(0.86 1)" fill="#ffffff" stroke="#ffffff">-0.055</text>
<text transform="translate(88.91 173.05) scale(0.86 1)" fill="#ffffff" stroke="#ffffff">0.41</text>
<text transform="translate(106.69 173.05) scale(0.86 1)" fill="#ffffff" stroke="#ffffff">0.04</text>
<text transform="translate(124.46 173.05) scale(0.86 1)" fill="#ffffff" stroke="#ffffff">0.029</text>
<text transform="translate(142.24 173.05) scale(0.86 1)" fill="#ffffff" stroke="#ffffff">0.3</text>
<text transform="translate(160.01 173.05) scale(0.86 1)" fill="#ffffff" stroke="#ffffff">-0.0067</text>
<text transform="translate(177.79 173.05) scale(0.86 1)" fill="#ffffff" stroke="#ffffff">0.39</text>
<text transform="translate(195.56 173.05) scale(0.86 1)" fill="#ffffff" stroke="#ffffff">0.3</text>
<text transform="translate(213.34 173.05) scale(0.86 1)" fill="#ffffff" stroke="#ffffff">0.22</text>
<text transform="translate(231.11 173.05) scale(0.86 1)" fill="#262626" stroke="#262626">1</text>
<text transform="translate(248.89 173.05) scale(0.86 1)" fill="#ffffff" stroke="#ffffff">-0.057</text>
<text transform="translate(266.66 173.05) scale(0.86 1)" fill="#ffffff" stroke="#ffffff">0.37</text>
<text transform="translate(284.44 173.05) scale(0.86 1)" fill="#ffffff" stroke="#ffffff">0.4</text>
<text transform="translate(302.21 173.05) scale(0.86 1)" fill="#ffffff" stroke="#ffffff">0.38</text>
<text transform="translate(35.59 187.47) scale(0.86 1)" fill="#ffffff" stroke="#ffffff">-0.47</text>
<text transform="translate(53.36 187.47) scale(0.86 1)" fill="#ffffff" stroke="#ffffff">-0.79</text>
<text transform="translate(71.14 187.47) scale(0.86 1)" fill="#262626" stroke="#262626">0.98</text>
<text transform="translate(88.91 187.47) scale(0.86 1)" fill="#ffffff" stroke="#ffffff">-0.0057</text>
<text transform="translate(106.69 187.47) scale(0.86 1)" fill="#ffffff" stroke="#ffffff">-0.012</text>
<text transform="translate(124.46 187.47) scale(0.86 1)" fill="#ffffff" stroke="#ffffff">0.24</text>
<text transform="translate(142.24 187.47) scale(0.86 1)" fill="#ffffff" stroke="#ffffff">-0.07</text>
<text transform="translate(160.01 187.47) scale(0.86 1)" fill="#ffffff" stroke="#ffffff">-0.014</text>
<text transform="translate(177.79 187.47) scale(0.86 1)" fill="#ffffff" stroke="#ffffff">0.14</text>
<text transform="translate(195.56 187.47) scale(0.86 1)" fill="#ffffff" stroke="#ffffff">0.26</text>
<text transform="translate(213.34 187.47) scale(0.86 1)" fill="#ffffff" stroke="#ffffff">-0.042</text>
<text transform="translate(231.11 187.47) scale(0.86 1)" fill="#ffffff" stroke="#ffffff">-0.057</text>
<text transform="translate(248.89 187.47) scale(0.86 1)" fill="#262626" stroke="#262626">1</text>
<text transform="translate(266.66 187.47) scale(0.86 1)" fill="#ffffff" stroke="#ffffff">-0.065</text>
<text transform="translate(284.44 187.47) scale(0.86 1)" fill="#ffffff" stroke="#ffffff">-0.035</text>
<text transform="translate(302.21 187.47) scale(0.86 1)" fill="#ffffff" stroke="#ffffff">-0.024</text>
<text transform="translate(35.59 201.90) scale(0.86 1)" fill="#ffffff" stroke="#ffffff">0.12</text>
<text transform="translate(53.36 201.90) scale(0.86 1)" fill="#ffffff" stroke="#ffffff">0.051</text>
<text transform="translate(71.14 201.90) scale(0.86 1)" fill="#ffffff" stroke="#ffffff">-0.064</text>
<text transform="translate(88.91 201.90) scale(0.86 1)" fill="#ffffff" stroke="#ffffff">0.54</text>
<text transform="translate(106.69 201.90) scale(0.86 1)" fill="#ffffff" stroke="#ffffff">-0.026</text>
<text transform="translate(124.46 201.90) scale(0.86 1)" fill="#ffffff" stroke="#ffffff">-0.034</text>
<text transform="translate(142.24 201.90) scale(0.86 1)" fill="#ffffff" stroke="#ffffff">0.4</text>
<text transform="translate(160.01 201.90) scale(0.86 1)" fill="#ffffff" stroke="#ffffff">0.25</text>
<text transform="translate(177.79 201.90) scale(0.86 1)" fill="#ffffff" stroke="#ffffff">0.34</text>
<text transform="translate(195.56 201.90) scale(0.86 1)" fill="#ffffff" stroke="#ffffff">0.27</text>
<text transform="translate(213.34 201.90) scale(0.86 1)" fill="#ffffff" stroke="#ffffff">0.29</text>
<text transform="translate(231.11 201.90) scale(0.86 1)" fill="#ffffff" stroke="#ffffff">0.37</text>
<text transform="translate(248.89 201.90) scale(0.86 1)" fill="#ffffff" stroke="#ffffff">-0.065</text>
<text transform="translate(266.66 201.90) scale(0.86 1)" fill="#262626" stroke="#262626">1</text>
<text transform="translate(284.44 201.90) scale(0.86 1)" fill="#ffffff" stroke="#ffffff">0.36</text>
<text transform="translate(302.21 201.90) scale(0.86 1)" fill="#ffffff" stroke="#ffffff">0.47</text>
<text transform="translate(35.59 216.32) scale(0.86 1)" fill="#ffffff" stroke="#ffffff">-0.066</text>
<text transform="translate(53.36 216.32) scale(0.86 1)" fill="#ffffff" stroke="#ffffff">0.0061</text>
<text transform="translate(71.14 216.32) scale(0.86 1)" fill="#ffffff" stroke="#ffffff">-0.042</text>
<text transform="translate(88.91 216.32) scale(0.86 1)" fill="#262626" stroke="#262626">0.65</text>
<text transform="translate(106.69 216.32) scale(0.86 1)" fill="#ffffff" stroke="#ffffff">-0.18</text>
<text transform="translate(124.46 216.32) scale(0.86 1)" fill="#ffffff" stroke="#ffffff">-0.17</text>
<text transform="translate(142.24 216.32) scale(0.86 1)" fill="#ffffff" stroke="#ffffff">0.48</text>
<text transform="translate(160.01 216.32) scale(0.86 1)" fill="#ffffff" stroke="#ffffff">0.097</text>
<text transform="translate(177.79 216.32) scale(0.86 1)" fill="#262626" stroke="#262626">0.98</text>
<text transform="translate(195.56 216.32) scale(0.86 1)" fill="#ffffff" stroke="#ffffff">0.04</text>
<text transform="translate(213.34 216.32) scale(0.86 1)" fill="#ffffff" stroke="#ffffff">0.0056</text>
<text transform="translate(231.11 216.32) scale(0.86 1)" fill="#ffffff" stroke="#ffffff">0.4</text>
<text transform="translate(248.89 216.32) scale(0.86 1)" fill="#ffffff" stroke="#ffffff">-0.035</text>
<text transform="translate(266.66 216.32) scale(0.86 1)" fill="#ffffff" stroke="#ffffff">0.36</text>
<text transform="translate(284.44 216.32) scale(0.86 1)" fill="#262626" stroke="#262626">1</text>
<text transform="translate(302.21 216.32) scale(0.86 1)" fill="#262626" stroke="#262626">0.79</text>
<text transform="translate(35.59 230.74) scale(0.86 1)" fill="#ffffff" stroke="#ffffff">0.092</text>
<text transform="translate(53.36 230.74) scale(0.86 1)" fill="#ffffff" stroke="#ffffff">0.035</text>
<text transform="translate(71.14 230.74) scale(0.86 1)" fill="#ffffff" stroke="#ffffff">-0.019</text>
<text transform="translate(88.91 230.74) scale(0.86 1)" fill="#262626" stroke="#262626">0.66</text>
<text transform="translate(106.69 230.74) scale(0.86 1)" fill="#ffffff" stroke="#ffffff">0.046</text>
<text transform="translate(124.46 230.74) scale(0.86 1)" fill="#ffffff" stroke="#ffffff">0.05</text>
<text transform="translate(142.24 230.74) scale(0.86 1)" fill="#ffffff" stroke="#ffffff">0.59</text>
<text transform="translate(160.01 230.74) scale(0.86 1)" fill="#ffffff" stroke="#ffffff">0.23</text>
<text transform="translate(177.79 230.74) scale(0.86 1)" fill="#262626" stroke="#262626">0.78</text>
<text transform="translate(195.56 230.74) scale(0.86 1)" fill="#ffffff" stroke="#ffffff">0.12</text>
<text transform="translate(213.34 230.74) scale(0.86 1)" fill="#ffffff" stroke="#ffffff">0.089</text>
<text transform="translate(231.11 230.74) scale(0.86 1)" fill="#ffffff" stroke="#ffffff">0.38</text>
<text transform="translate(248.89 230.74) scale(0.86 1)" fill="#ffffff" stroke="#ffffff">-0.024</text>
<text transform="translate(266.66 230.74) scale(0.86 1)" fill="#ffffff" stroke="#ffffff">0.47</text>
<text transform="translate(284.44 230.74) scale(0.86 1)" fill="#262626" stroke="#262626">0.79</text>
<text transform="translate(302.21 230.74) scale(0.86 1)" fill="#262626" stroke="#262626">1</text>
</g>
<path d="M35.59 236.50v1.8M26.70 12.96h-1.8M53.36 236.50v1.8M26.70 27.38h-1.8M71.14 236.50v1.8M26.70 41.80h-1.8M88.91 236.50v1.8M26.70 56.23h-1.8M106.69 236.50v1.8M26.70 70.65h-1.8M124.46 236.50v1.8M26.70 85.07h-1.8M142.24 236.50v1.8M26.70 99.49h-1.8M160.01 236.50v1.8M26.70 113.91h-1.8M177.79 236.50v1.8M26.70 128.34h-1.8M195.56 236.50v1.8M26.70 142.76h-1.8M213.34 236.50v1.8M26.70 157.18h-1.8M231.11 236.50v1.8M26.70 171.60h-1.8M248.89 236.50v1.8M26.70 186.02h-1.8M266.66 236.50v1.8M26.70 200.45h-1.8M284.44 236.50v1.8M26.70 214.87h-1.8M302.21 236.50v1.8M26.70 229.29h-1.8M340.40 6.05h1.8M340.40 31.83h1.8M340.40 57.61h1.8M340.40 83.40h1.8M340.40 109.18h1.8M340.40 134.96h1.8M340.40 160.74h1.8M340.40 186.52h1.8M340.40 212.31h1.8" stroke="#111" stroke-width="0.5" fill="none"/>
<g font-size="5.8" fill="#111" stroke="#111" stroke-width="0" text-anchor="middle">
<text transform="translate(35.59 245.10) scale(0.86 1)">TC-1</text>
<text transform="translate(53.36 245.10) scale(0.86 1)">TC-2</text>
<text transform="translate(71.14 245.10) scale(0.86 1)">TC-3</text>
<text transform="translate(88.91 245.10) scale(0.86 1)">TC-4</text>
<text transform="translate(106.69 245.10) scale(0.86 1)">TC-5</text>
<text transform="translate(124.46 245.10) scale(0.86 1)">TC-6</text>
<text transform="translate(142.24 245.10) scale(0.86 1)">TC-7</text>
<text transform="translate(160.01 245.10) scale(0.86 1)">TC-8</text>
<text transform="translate(177.79 245.10) scale(0.86 1)">TC-9</text>
<text transform="translate(195.56 245.10) scale(0.86 1)">TC-10</text>
<text transform="translate(213.34 245.10) scale(0.86 1)">TC-11</text>
<text transform="translate(231.11 245.10) scale(0.86 1)">TC-12</text>
<text transform="translate(248.89 245.10) scale(0.86 1)">TC-13</text>
<text transform="translate(266.66 245.10) scale(0.86 1)">TC-14</text>
<text transform="translate(284.44 245.10) scale(0.86 1)">TC-15</text>
<text transform="translate(302.21 245.10) scale(0.86 1)">Final</text>
</g>
<g font-size="5.8" fill="#111" stroke="#111" stroke-width="0" text-anchor="end">
<text transform="translate(21.70 14.70) scale(0.86 1)">TC-1</text>
<text transform="translate(21.70 29.12) scale(0.86 1)">TC-2</text>
<text transform="translate(21.70 43.54) scale(0.86 1)">TC-3</text>
<text transform="translate(21.70 57.97) scale(0.86 1)">TC-4</text>
<text transform="translate(21.70 72.39) scale(0.86 1)">TC-5</text>
<text transform="translate(21.70 86.81) scale(0.86 1)">TC-6</text>
<text transform="translate(21.70 101.23) scale(0.86 1)">TC-7</text>
<text transform="translate(21.70 115.65) scale(0.86 1)">TC-8</text>
<text transform="translate(21.70 130.08) scale(0.86 1)">TC-9</text>
<text transform="translate(21.70 144.50) scale(0.86 1)">TC-10</text>
<text transform="translate(21.70 158.92) scale(0.86 1)">TC-11</text>
<text transform="translate(21.70 173.34) scale(0.86 1)">TC-12</text>
<text transform="translate(21.70 187.76) scale(0.86 1)">TC-13</text>
<text transform="translate(21.70 202.19) scale(0.86 1)">TC-14</text>
<text transform="translate(21.70 216.61) scale(0.86 1)">TC-15</text>
<text transform="translate(21.70 231.03) scale(0.86 1)">Final</text>
</g>
<g font-size="5.8" fill="#111" stroke="#111" stroke-width="0">
<text transform="translate(344.50 8.17) scale(0.86 1)">1.0</text>
<text transform="translate(344.50 33.95) scale(0.86 1)">0.8</text>
<text transform="translate(344.50 59.73) scale(0.86 1)">0.6</text>
<text transform="translate(344.50 85.51) scale(0.86 1)">0.4</text>
<text transform="translate(344.50 111.30) scale(0.86 1)">0.2</text>
<text transform="translate(344.50 137.08) scale(0.86 1)">0.0</text>
<text transform="translate(344.50 162.86) scale(0.86 1)">−0.2</text>
<text transform="translate(344.50 188.64) scale(0.86 1)">−0.4</text>
<text transform="translate(344.50 214.42) scale(0.86 1)">−0.6</text>
</g>
<defs><linearGradient id="hm1g" x1="0" y1="0" x2="0" y2="1"><stop offset="0.0000" stop-color="#faebdd"/><stop offset="0.0312" stop-color="#f9e0cd"/><stop offset="0.0625" stop-color="#f8d4bc"/><stop offset="0.0938" stop-color="#f7c9aa"/><stop offset="0.1250" stop-color="#f6bc99"/><stop offset="0.1562" stop-color="#f6b089"/><stop offset="0.1875" stop-color="#f6a37a"/><stop offset="0.2188" stop-color="#f5966c"/><stop offset="0.2500" stop-color="#f58860"/><stop offset="0.2812" stop-color="#f47a54"/><stop offset="0.3125" stop-color="#f26b49"/><stop offset="0.3438" stop-color="#f05c42"/><stop offset="0.3750" stop-color="#ec4c3e"/><stop offset="0.4062" stop-color="#e73d3f"/><stop offset="0.4375" stop-color="#df2f44"/><stop offset="0.4688" stop-color="#d62449"/><stop offset="0.5000" stop-color="#cb1b4f"/><stop offset="0.5312" stop-color="#bf1654"/><stop offset="0.5625" stop-color="#b21758"/><stop offset="0.5938" stop-color="#a4195b"/><stop offset="0.6250" stop-color="#971c5b"/><stop offset="0.6562" stop-color="#891e5b"/><stop offset="0.6875" stop-color="#7b1f59"/><stop offset="0.7188" stop-color="#6e1f57"/><stop offset="0.7500" stop-color="#611f53"/><stop offset="0.7812" stop-color="#541e4e"/><stop offset="0.8125" stop-color="#481c48"/><stop offset="0.8438" stop-color="#3c1a42"/><stop offset="0.8750" stop-color="#30173a"/><stop offset="0.9062" stop-color="#241432"/><stop offset="0.9375" stop-color="#180f29"/><stop offset="0.9688" stop-color="#0d0a21"/><stop offset="1.0000" stop-color="#03051a"/></linearGradient></defs>
<rect x="329.00" y="5.75" width="11.40" height="230.75" fill="url(#hm1g)"/>
</g>
<text class="cap" x="180.6" y="262.2" text-anchor="middle">(<tspan font-weight="bold">b</tspan>)</text>
<g id="hm2">
<g>
<rect x="14.90" y="281.30" width="33.44" height="27.36" fill="#faebdd"/>
<rect x="47.34" y="281.30" width="33.44" height="27.36" fill="#1a102a"/>
<rect x="79.79" y="281.30" width="33.44" height="27.36" fill="#1a102a"/>
<rect x="112.23" y="281.30" width="33.44" height="27.36" fill="#1a102a"/>
<rect x="144.68" y="281.30" width="33.44" height="27.36" fill="#1a102a"/>
<rect x="177.12" y="281.30" width="33.44" height="27.36" fill="#661f54"/>
<rect x="209.57" y="281.30" width="33.44" height="27.36" fill="#1a102a"/>
<rect x="242.01" y="281.30" width="33.44" height="27.36" fill="#03051a"/>
<rect x="274.46" y="281.30" width="32.44" height="27.36" fill="#30173a"/>
<rect x="14.90" y="307.66" width="33.44" height="27.36" fill="#1a102a"/>
<rect x="47.34" y="307.66" width="33.44" height="27.36" fill="#faebdd"/>
<rect x="79.79" y="307.66" width="33.44" height="27.36" fill="#faebdd"/>
<rect x="112.23" y="307.66" width="33.44" height="27.36" fill="#faebdd"/>
<rect x="144.68" y="307.66" width="33.44" height="27.36" fill="#faebdd"/>
<rect x="177.12" y="307.66" width="33.44" height="27.36" fill="#611f53"/>
<rect x="209.57" y="307.66" width="33.44" height="27.36" fill="#faebdd"/>
<rect x="242.01" y="307.66" width="33.44" height="27.36" fill="#f16445"/>
<rect x="274.46" y="307.66" width="32.44" height="27.36" fill="#f7cdb1"/>
<rect x="14.90" y="334.01" width="33.44" height="27.36" fill="#1a102a"/>
<rect x="47.34" y="334.01" width="33.44" height="27.36" fill="#faebdd"/>
<rect x="79.79" y="334.01" width="33.44" height="27.36" fill="#faebdd"/>
<rect x="112.23" y="334.01" width="33.44" height="27.36" fill="#faebdd"/>
<rect x="144.68" y="334.01" width="33.44" height="27.36" fill="#faebdd"/>
<rect x="177.12" y="334.01" width="33.44" height="27.36" fill="#611f53"/>
<rect x="209.57" y="334.01" width="33.44" height="27.36" fill="#faebdd"/>
<rect x="242.01" y="334.01" width="33.44" height="27.36" fill="#f16445"/>
<rect x="274.46" y="334.01" width="32.44" height="27.36" fill="#f7cdb1"/>
<rect x="14.90" y="360.37" width="33.44" height="27.36" fill="#1a102a"/>
<rect x="47.34" y="360.37" width="33.44" height="27.36" fill="#faebdd"/>
<rect x="79.79" y="360.37" width="33.44" height="27.36" fill="#faebdd"/>
<rect x="112.23" y="360.37" width="33.44" height="27.36" fill="#faebdd"/>
<rect x="144.68" y="360.37" width="33.44" height="27.36" fill="#faebdd"/>
<rect x="177.12" y="360.37" width="33.44" height="27.36" fill="#611f53"/>
<rect x="209.57" y="360.37" width="33.44" height="27.36" fill="#faebdd"/>
<rect x="242.01" y="360.37" width="33.44" height="27.36" fill="#f16445"/>
<rect x="274.46" y="360.37" width="32.44" height="27.36" fill="#f7cdb1"/>
<rect x="14.90" y="386.72" width="33.44" height="27.36" fill="#1a102a"/>
<rect x="47.34" y="386.72" width="33.44" height="27.36" fill="#faebdd"/>
<rect x="79.79" y="386.72" width="33.44" height="27.36" fill="#faebdd"/>
<rect x="112.23" y="386.72" width="33.44" height="27.36" fill="#faebdd"/>
<rect x="144.68" y="386.72" width="33.44" height="27.36" fill="#faebdd"/>
<rect x="177.12" y="386.72" width="33.44" height="27.36" fill="#611f53"/>
<rect x="209.57" y="386.72" width="33.44" height="27.36" fill="#faebdd"/>
<rect x="242.01" y="386.72" width="33.44" height="27.36" fill="#f16445"/>
<rect x="274.46" y="386.72" width="32.44" height="27.36" fill="#f7cdb1"/>
<rect x="14.90" y="413.08" width="33.44" height="27.36" fill="#661f54"/>
<rect x="47.34" y="413.08" width="33.44" height="27.36" fill="#611f53"/>
<rect x="79.79" y="413.08" width="33.44" height="27.36" fill="#611f53"/>
<rect x="112.23" y="413.08" width="33.44" height="27.36" fill="#611f53"/>
<rect x="144.68" y="413.08" width="33.44" height="27.36" fill="#611f53"/>
<rect x="177.12" y="413.08" width="33.44" height="27.36" fill="#faebdd"/>
<rect x="209.57" y="413.08" width="33.44" height="27.36" fill="#611f53"/>
<rect x="242.01" y="413.08" width="33.44" height="27.36" fill="#561e4f"/>
<rect x="274.46" y="413.08" width="32.44" height="27.36" fill="#6d1f56"/>
<rect x="14.90" y="439.43" width="33.44" height="27.36" fill="#1a102a"/>
<rect x="47.34" y="439.43" width="33.44" height="27.36" fill="#faebdd"/>
<rect x="79.79" y="439.43" width="33.44" height="27.36" fill="#faebdd"/>
<rect x="112.23" y="439.43" width="33.44" height="27.36" fill="#faebdd"/>
<rect x="144.68" y="439.43" width="33.44" height="27.36" fill="#faebdd"/>
<rect x="177.12" y="439.43" width="33.44" height="27.36" fill="#611f53"/>
<rect x="209.57" y="439.43" width="33.44" height="27.36" fill="#faebdd"/>
<rect x="242.01" y="439.43" width="33.44" height="27.36" fill="#f16445"/>
<rect x="274.46" y="439.43" width="32.44" height="27.36" fill="#f7cdb1"/>
<rect x="14.90" y="465.79" width="33.44" height="27.36" fill="#03051a"/>
<rect x="47.34" y="465.79" width="33.44" height="27.36" fill="#f16445"/>
<rect x="79.79" y="465.79" width="33.44" height="27.36" fill="#f16445"/>
<rect x="112.23" y="465.79" width="33.44" height="27.36" fill="#f16445"/>
<rect x="144.68" y="465.79" width="33.44" height="27.36" fill="#f16445"/>
<rect x="177.12" y="465.79" width="33.44" height="27.36" fill="#561e4f"/>
<rect x="209.57" y="465.79" width="33.44" height="27.36" fill="#f16445"/>
<rect x="242.01" y="465.79" width="33.44" height="27.36" fill="#faebdd"/>
<rect x="274.46" y="465.79" width="32.44" height="27.36" fill="#f6a981"/>
<rect x="14.90" y="492.14" width="33.44" height="26.36" fill="#30173a"/>
<rect x="47.34" y="492.14" width="33.44" height="26.36" fill="#f7cdb1"/>
<rect x="79.79" y="492.14" width="33.44" height="26.36" fill="#f7cdb1"/>
<rect x="112.23" y="492.14" width="33.44" height="26.36" fill="#f7cdb1"/>
<rect x="144.68" y="492.14" width="33.44" height="26.36" fill="#f7cdb1"/>
<rect x="177.12" y="492.14" width="33.44" height="26.36" fill="#6d1f56"/>
<rect x="209.57" y="492.14" width="33.44" height="26.36" fill="#f7cdb1"/>
<rect x="242.01" y="492.14" width="33.44" height="26.36" fill="#f6a981"/>
<rect x="274.46" y="492.14" width="32.44" height="26.36" fill="#faebdd"/>
</g>
<g font-size="5.7" text-anchor="middle" stroke-width="0" opacity="0.88">
<text transform="translate(31.12 296.36) scale(0.9 1)" fill="#262626" stroke="#262626">1</text>
<text transform="translate(63.57 296.36) scale(0.9 1)" fill="#ffffff" stroke="#ffffff">-0.26</text>
<text transform="translate(96.01 296.36) scale(0.9 1)" fill="#ffffff" stroke="#ffffff">-0.26</text>
<text transform="translate(128.46 296.36) scale(0.9 1)" fill="#ffffff" stroke="#ffffff">-0.26</text>
<text transform="translate(160.90 296.36) scale(0.9 1)" fill="#ffffff" stroke="#ffffff">-0.26</text>
<text transform="translate(193.34 296.36) scale(0.9 1)" fill="#ffffff" stroke="#ffffff">0.0037</text>
<text transform="translate(225.79 296.36) scale(0.9 1)" fill="#ffffff" stroke="#ffffff">-0.26</text>
<text transform="translate(258.23 296.36) scale(0.9 1)" fill="#ffffff" stroke="#ffffff">-0.35</text>
<text transform="translate(290.68 296.36) scale(0.9 1)" fill="#ffffff" stroke="#ffffff">-0.18</text>
<text transform="translate(31.12 322.71) scale(0.9 1)" fill="#ffffff" stroke="#ffffff">-0.26</text>
<text transform="translate(63.57 322.71) scale(0.9 1)" fill="#262626" stroke="#262626">1</text>
<text transform="translate(96.01 322.71) scale(0.9 1)" fill="#262626" stroke="#262626">1</text>
<text transform="translate(128.46 322.71) scale(0.9 1)" fill="#262626" stroke="#262626">1</text>
<text transform="translate(160.90 322.71) scale(0.9 1)" fill="#262626" stroke="#262626">1</text>
<text transform="translate(193.34 322.71) scale(0.9 1)" fill="#ffffff" stroke="#ffffff">-0.0092</text>
<text transform="translate(225.79 322.71) scale(0.9 1)" fill="#262626" stroke="#262626">1</text>
<text transform="translate(258.23 322.71) scale(0.9 1)" fill="#ffffff" stroke="#ffffff">0.56</text>
<text transform="translate(290.68 322.71) scale(0.9 1)" fill="#262626" stroke="#262626">0.89</text>
<text transform="translate(31.12 349.07) scale(0.9 1)" fill="#ffffff" stroke="#ffffff">-0.26</text>
<text transform="translate(63.57 349.07) scale(0.9 1)" fill="#262626" stroke="#262626">1</text>
<text transform="translate(96.01 349.07) scale(0.9 1)" fill="#262626" stroke="#262626">1</text>
<text transform="translate(128.46 349.07) scale(0.9 1)" fill="#262626" stroke="#262626">1</text>
<text transform="translate(160.90 349.07) scale(0.9 1)" fill="#262626" stroke="#262626">1</text>
<text transform="translate(193.34 349.07) scale(0.9 1)" fill="#ffffff" stroke="#ffffff">-0.0092</text>
<text transform="translate(225.79 349.07) scale(0.9 1)" fill="#262626" stroke="#262626">1</text>
<text transform="translate(258.23 349.07) scale(0.9 1)" fill="#ffffff" stroke="#ffffff">0.56</text>
<text transform="translate(290.68 349.07) scale(0.9 1)" fill="#262626" stroke="#262626">0.89</text>
<text transform="translate(31.12 375.43) scale(0.9 1)" fill="#ffffff" stroke="#ffffff">-0.26</text>
<text transform="translate(63.57 375.43) scale(0.9 1)" fill="#262626" stroke="#262626">1</text>
<text transform="translate(96.01 375.43) scale(0.9 1)" fill="#262626" stroke="#262626">1</text>
<text transform="translate(128.46 375.43) scale(0.9 1)" fill="#262626" stroke="#262626">1</text>
<text transform="translate(160.90 375.43) scale(0.9 1)" fill="#262626" stroke="#262626">1</text>
<text transform="translate(193.34 375.43) scale(0.9 1)" fill="#ffffff" stroke="#ffffff">-0.0092</text>
<text transform="translate(225.79 375.43) scale(0.9 1)" fill="#262626" stroke="#262626">1</text>
<text transform="translate(258.23 375.43) scale(0.9 1)" fill="#ffffff" stroke="#ffffff">0.56</text>
<text transform="translate(290.68 375.43) scale(0.9 1)" fill="#262626" stroke="#262626">0.89</text>
<text transform="translate(31.12 401.78) scale(0.9 1)" fill="#ffffff" stroke="#ffffff">-0.26</text>
<text transform="translate(63.57 401.78) scale(0.9 1)" fill="#262626" stroke="#262626">1</text>
<text transform="translate(96.01 401.78) scale(0.9 1)" fill="#262626" stroke="#262626">1</text>
<text transform="translate(128.46 401.78) scale(0.9 1)" fill="#262626" stroke="#262626">1</text>
<text transform="translate(160.90 401.78) scale(0.9 1)" fill="#262626" stroke="#262626">1</text>
<text transform="translate(193.34 401.78) scale(0.9 1)" fill="#ffffff" stroke="#ffffff">-0.0092</text>
<text transform="translate(225.79 401.78) scale(0.9 1)" fill="#262626" stroke="#262626">1</text>
<text transform="translate(258.23 401.78) scale(0.9 1)" fill="#ffffff" stroke="#ffffff">0.56</text>
<text transform="translate(290.68 401.78) scale(0.9 1)" fill="#262626" stroke="#262626">0.89</text>
<text transform="translate(31.12 428.14) scale(0.9 1)" fill="#ffffff" stroke="#ffffff">0.0037</text>
<text transform="translate(63.57 428.14) scale(0.9 1)" fill="#ffffff" stroke="#ffffff">-0.0092</text>
<text transform="translate(96.01 428.14) scale(0.9 1)" fill="#ffffff" stroke="#ffffff">-0.0092</text>
<text transform="translate(128.46 428.14) scale(0.9 1)" fill="#ffffff" stroke="#ffffff">-0.0092</text>
<text transform="translate(160.90 428.14) scale(0.9 1)" fill="#ffffff" stroke="#ffffff">-0.0092</text>
<text transform="translate(193.34 428.14) scale(0.9 1)" fill="#262626" stroke="#262626">1</text>
<text transform="translate(225.79 428.14) scale(0.9 1)" fill="#ffffff" stroke="#ffffff">-0.0092</text>
<text transform="translate(258.23 428.14) scale(0.9 1)" fill="#ffffff" stroke="#ffffff">-0.045</text>
<text transform="translate(290.68 428.14) scale(0.9 1)" fill="#ffffff" stroke="#ffffff">0.026</text>
<text transform="translate(31.12 454.49) scale(0.9 1)" fill="#ffffff" stroke="#ffffff">-0.26</text>
<text transform="translate(63.57 454.49) scale(0.9 1)" fill="#262626" stroke="#262626">1</text>
<text transform="translate(96.01 454.49) scale(0.9 1)" fill="#262626" stroke="#262626">1</text>
<text transform="translate(128.46 454.49) scale(0.9 1)" fill="#262626" stroke="#262626">1</text>
<text transform="translate(160.90 454.49) scale(0.9 1)" fill="#262626" stroke="#262626">1</text>
<text transform="translate(193.34 454.49) scale(0.9 1)" fill="#ffffff" stroke="#ffffff">-0.0092</text>
<text transform="translate(225.79 454.49) scale(0.9 1)" fill="#262626" stroke="#262626">1</text>
<text transform="translate(258.23 454.49) scale(0.9 1)" fill="#ffffff" stroke="#ffffff">0.56</text>
<text transform="translate(290.68 454.49) scale(0.9 1)" fill="#262626" stroke="#262626">0.89</text>
<text transform="translate(31.12 480.85) scale(0.9 1)" fill="#ffffff" stroke="#ffffff">-0.35</text>
<text transform="translate(63.57 480.85) scale(0.9 1)" fill="#ffffff" stroke="#ffffff">0.56</text>
<text transform="translate(96.01 480.85) scale(0.9 1)" fill="#ffffff" stroke="#ffffff">0.56</text>
<text transform="translate(128.46 480.85) scale(0.9 1)" fill="#ffffff" stroke="#ffffff">0.56</text>
<text transform="translate(160.90 480.85) scale(0.9 1)" fill="#ffffff" stroke="#ffffff">0.56</text>
<text transform="translate(193.34 480.85) scale(0.9 1)" fill="#ffffff" stroke="#ffffff">-0.045</text>
<text transform="translate(225.79 480.85) scale(0.9 1)" fill="#ffffff" stroke="#ffffff">0.56</text>
<text transform="translate(258.23 480.85) scale(0.9 1)" fill="#262626" stroke="#262626">1</text>
<text transform="translate(290.68 480.85) scale(0.9 1)" fill="#262626" stroke="#262626">0.77</text>
<text transform="translate(31.12 507.20) scale(0.9 1)" fill="#ffffff" stroke="#ffffff">-0.18</text>
<text transform="translate(63.57 507.20) scale(0.9 1)" fill="#262626" stroke="#262626">0.89</text>
<text transform="translate(96.01 507.20) scale(0.9 1)" fill="#262626" stroke="#262626">0.89</text>
<text transform="translate(128.46 507.20) scale(0.9 1)" fill="#262626" stroke="#262626">0.89</text>
<text transform="translate(160.90 507.20) scale(0.9 1)" fill="#262626" stroke="#262626">0.89</text>
<text transform="translate(193.34 507.20) scale(0.9 1)" fill="#ffffff" stroke="#ffffff">0.026</text>
<text transform="translate(225.79 507.20) scale(0.9 1)" fill="#262626" stroke="#262626">0.89</text>
<text transform="translate(258.23 507.20) scale(0.9 1)" fill="#262626" stroke="#262626">0.77</text>
<text transform="translate(290.68 507.20) scale(0.9 1)" fill="#262626" stroke="#262626">1</text>
</g>
<path d="M31.12 518.50v1.8M14.90 294.48h-1.8M63.57 518.50v1.8M14.90 320.83h-1.8M96.01 518.50v1.8M14.90 347.19h-1.8M128.46 518.50v1.8M14.90 373.54h-1.8M160.90 518.50v1.8M14.90 399.90h-1.8M193.34 518.50v1.8M14.90 426.26h-1.8M225.79 518.50v1.8M14.90 452.61h-1.8M258.23 518.50v1.8M14.90 478.97h-1.8M290.68 518.50v1.8M14.90 505.32h-1.8M337.10 281.60h1.8M337.10 316.74h1.8M337.10 351.88h1.8M337.10 387.02h1.8M337.10 422.16h1.8M337.10 457.30h1.8M337.10 492.44h1.8" stroke="#111" stroke-width="0.5" fill="none"/>
<g font-size="5.7" fill="#111" stroke="#111" stroke-width="0" text-anchor="middle">
<text transform="translate(31.12 527.40) scale(0.9 1)">EC-1</text>
<text transform="translate(63.57 527.40) scale(0.9 1)">EC-2</text>
<text transform="translate(96.01 527.40) scale(0.9 1)">EC-3</text>
<text transform="translate(128.46 527.40) scale(0.9 1)">EC-4</text>
<text transform="translate(160.90 527.40) scale(0.9 1)">EC-5</text>
<text transform="translate(193.34 527.40) scale(0.9 1)">EC-6</text>
<text transform="translate(225.79 527.40) scale(0.9 1)">EC-7</text>
<text transform="translate(258.23 527.40) scale(0.9 1)">EC-8</text>
<text transform="translate(290.68 527.40) scale(0.9 1)">Final</text>
</g>
<g font-size="5.9" fill="#111" stroke="#111" stroke-width="0" text-anchor="middle">
<text transform="translate(9.60 295.48) rotate(-90) scale(0.965 1)">EC-1</text>
<text transform="translate(9.60 321.83) rotate(-90) scale(0.965 1)">EC-2</text>
<text transform="translate(9.60 348.19) rotate(-90) scale(0.965 1)">EC-3</text>
<text transform="translate(9.60 374.54) rotate(-90) scale(0.965 1)">EC-4</text>
<text transform="translate(9.60 400.90) rotate(-90) scale(0.965 1)">EC-5</text>
<text transform="translate(9.60 427.26) rotate(-90) scale(0.965 1)">EC-6</text>
<text transform="translate(9.60 453.61) rotate(-90) scale(0.965 1)">EC-7</text>
<text transform="translate(9.60 479.97) rotate(-90) scale(0.965 1)">EC-8</text>
<text transform="translate(9.60 506.32) rotate(-90) scale(0.965 1)">Final</text>
</g>
<g font-size="5.7" fill="#111" stroke="#111" stroke-width="0">
<text transform="translate(341.20 283.68) scale(0.9 1)">1.0</text>
<text transform="translate(341.20 318.82) scale(0.9 1)">0.8</text>
<text transform="translate(341.20 353.96) scale(0.9 1)">0.6</text>
<text transform="translate(341.20 389.10) scale(0.9 1)">0.4</text>
<text transform="translate(341.20 424.24) scale(0.9 1)">0.2</text>
<text transform="translate(341.20 459.38) scale(0.9 1)">0.0</text>
<text transform="translate(341.20 494.52) scale(0.9 1)">−0.2</text>
</g>
<defs><linearGradient id="hm2g" x1="0" y1="0" x2="0" y2="1"><stop offset="0.0000" stop-color="#faebdd"/><stop offset="0.0312" stop-color="#f9e0cd"/><stop offset="0.0625" stop-color="#f8d4bc"/><stop offset="0.0938" stop-color="#f7c9aa"/><stop offset="0.1250" stop-color="#f6bc99"/><stop offset="0.1562" stop-color="#f6b089"/><stop offset="0.1875" stop-color="#f6a37a"/><stop offset="0.2188" stop-color="#f5966c"/><stop offset="0.2500" stop-color="#f58860"/><stop offset="0.2812" stop-color="#f47a54"/><stop offset="0.3125" stop-color="#f26b49"/><stop offset="0.3438" stop-color="#f05c42"/><stop offset="0.3750" stop-color="#ec4c3e"/><stop offset="0.4062" stop-color="#e73d3f"/><stop offset="0.4375" stop-color="#df2f44"/><stop offset="0.4688" stop-color="#d62449"/><stop offset="0.5000" stop-color="#cb1b4f"/><stop offset="0.5312" stop-color="#bf1654"/><stop offset="0.5625" stop-color="#b21758"/><stop offset="0.5938" stop-color="#a4195b"/><stop offset="0.6250" stop-color="#971c5b"/><stop offset="0.6562" stop-color="#891e5b"/><stop offset="0.6875" stop-color="#7b1f59"/><stop offset="0.7188" stop-color="#6e1f57"/><stop offset="0.7500" stop-color="#611f53"/><stop offset="0.7812" stop-color="#541e4e"/><stop offset="0.8125" stop-color="#481c48"/><stop offset="0.8438" stop-color="#3c1a42"/><stop offset="0.8750" stop-color="#30173a"/><stop offset="0.9062" stop-color="#241432"/><stop offset="0.9375" stop-color="#180f29"/><stop offset="0.9688" stop-color="#0d0a21"/><stop offset="1.0000" stop-color="#03051a"/></linearGradient></defs>
<rect x="325.60" y="281.30" width="11.50" height="237.20" fill="url(#hm2g)"/>
</g>
<text class="cap" x="180" y="545.3" text-anchor="middle">(<tspan font-weight="bold">c</tspan>)</text>
</svg>
</body></html>
